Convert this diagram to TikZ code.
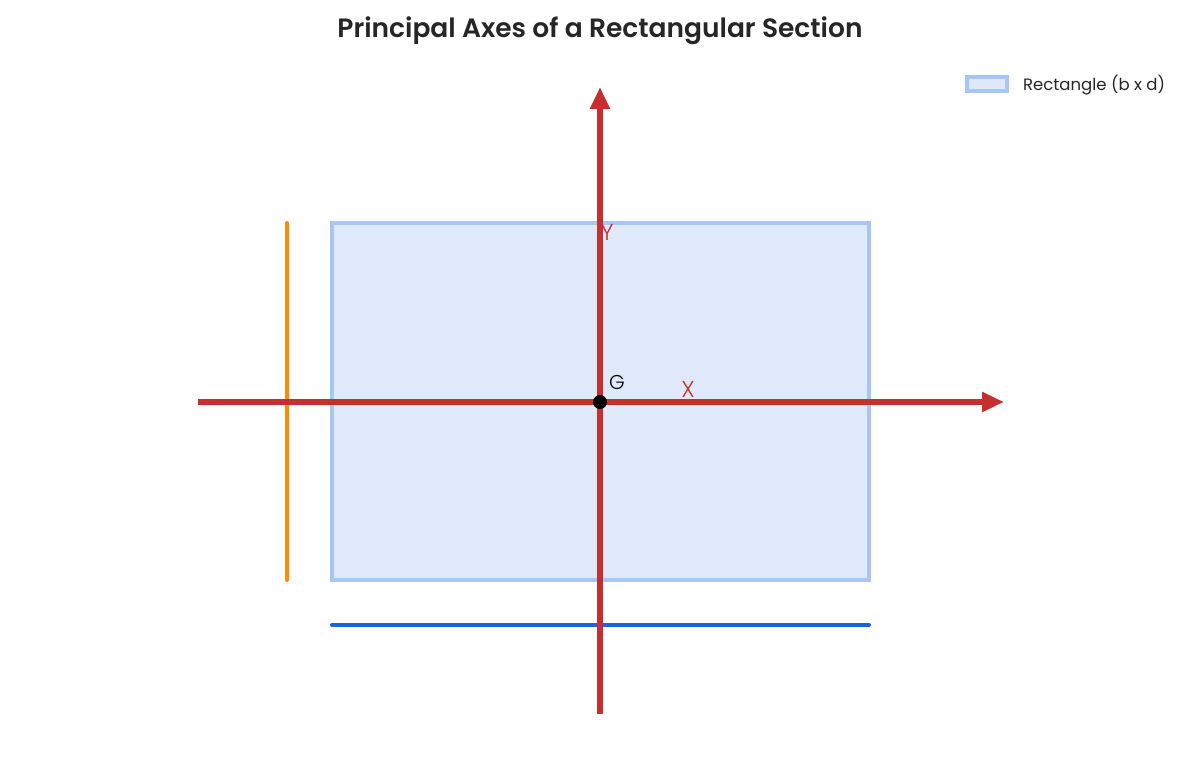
\documentclass[tikz,border=0pt]{standalone}
\usepackage{fontspec}
\setmainfont{Poppins}
\newfontfamily\titlefont{Poppins SemiBold}
\newfontfamily\lightfont{Poppins Light}
\usetikzlibrary{arrows.meta}
\definecolor{axisred}{HTML}{C62F2F}
\definecolor{rectfill}{HTML}{DFE9FA}
\definecolor{rectedge}{HTML}{A8C6F4}
\definecolor{orangeln}{HTML}{FF8C00}
\definecolor{blueln}{HTML}{1A62E6}
\tikzset{
  axis/.style={draw=axisred, line width=6pt, -{Triangle[length=22pt,width=19pt]}},
  seg/.style={line width=4pt, line cap=round},
  lbl/.style={font=\lightfont\fontsize{23pt}{26pt}\selectfont, inner sep=0pt}
}
\begin{document}
\begin{tikzpicture}[x=1pt,y=-1pt]
\useasboundingbox (0,0) rectangle (1200,763);
\fill[white] (0,0) rectangle (1200,763);
% title
\node[font=\titlefont\fontsize{26.5pt}{32pt}\selectfont, text=black!85] (title) at (600,31) {Principal Axes of a Rectangular Section};
% rectangle
\node[draw=rectedge, fill=rectfill, line width=4pt, outer sep=0pt, minimum width=537pt, minimum height=357pt, inner sep=0pt, anchor=north west] (rect) at (332,223) {};
% lines
\coordinate (o1) at (287,223);
\coordinate (o2) at (287,580);
\draw[seg, orangeln] (o1) -- (o2);
\coordinate (b1) at (332,625);
\coordinate (b2) at (869,625);
\draw[seg, blueln] (b1) -- (b2);
% axes
\coordinate (xs) at (198,402);
\coordinate (xe) at (1004,402);
\coordinate (ys) at (600,714);
\coordinate (ye) at (600,87);
\draw[axis] (xs) -- (xe);
\draw[axis] (ys) -- (ye);
% centroid
\node[circle, fill=black, minimum size=14pt, inner sep=0pt] (G) at (600,402) {};
\node[lbl, text=black, font=\lightfont\fontsize{20pt}{24pt}\selectfont] (Glbl) at (617,382) {G};
\node[lbl, text=axisred] (Xlbl) at (688,389) {X};
\node[lbl, text=axisred] (Ylbl) at (607,232) {Y};
% legend
\node[draw=rectedge, fill=rectfill, line width=4pt, minimum width=40pt, minimum height=14pt, inner sep=0pt] (sw) at (987,84) {};
\node[lbl, text=black!85, font=\fontsize{16.5pt}{20pt}\selectfont, anchor=west] (leg) at (1023,85) {Rectangle (b x d)};
\end{tikzpicture}
\end{document}
